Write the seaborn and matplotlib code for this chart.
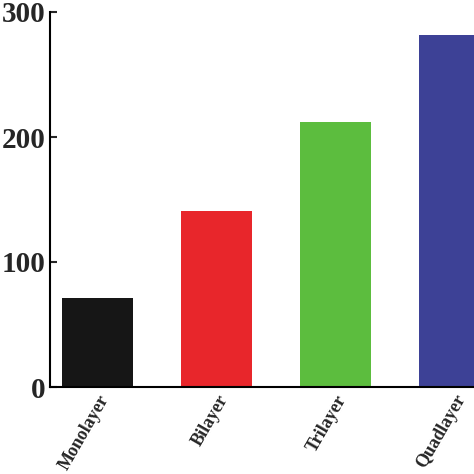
import matplotlib
matplotlib.use("Agg")
import matplotlib.pyplot as plt
import seaborn as sns
import pandas as pd

categories = ["Monolayer", "Bilayer", "Trilayer", "Quadlayer"]
values = [71, 141, 212, 282]
colors = ["#161616", "#e8262b", "#5cbd3e", "#3d4196"]

sns.set_style("ticks")
plt.rcParams['font.family'] = ['Liberation Serif', 'DejaVu Serif']

df = pd.DataFrame({"cat": categories, "val": values})
fig = plt.figure(figsize=(4.74, 4.74), dpi=100)
W = 474
ax = fig.add_axes([50 / W, 87 / W, 476 / W, 375 / W])
sns.barplot(data=df, x="cat", y="val", hue="cat", palette=colors, width=0.59,
            legend=False, ax=ax, edgecolor="none", saturation=1)
ax.set_xlim(-0.4, 3.6)
ax.set_ylim(0, 300)
ax.set_yticks([0, 100, 200, 300])
ax.set_xlabel("")
ax.set_ylabel("")
for s in ax.spines.values():
    s.set_linewidth(1.5)
    s.set_color("black")
ax.spines["top"].set_visible(False)
ax.tick_params(direction="in", width=1.5, length=5, labelsize=21)
ax.tick_params(axis="y", pad=3)
for t in ax.get_yticklabels():
    t.set_fontweight("bold")
for t in ax.get_xticklabels():
    t.set_fontweight("bold")
    t.set_rotation(60)
    t.set_ha("right")
    t.set_rotation_mode("anchor")
    t.set_fontsize(13)
fig.savefig("out.png", dpi=100)
